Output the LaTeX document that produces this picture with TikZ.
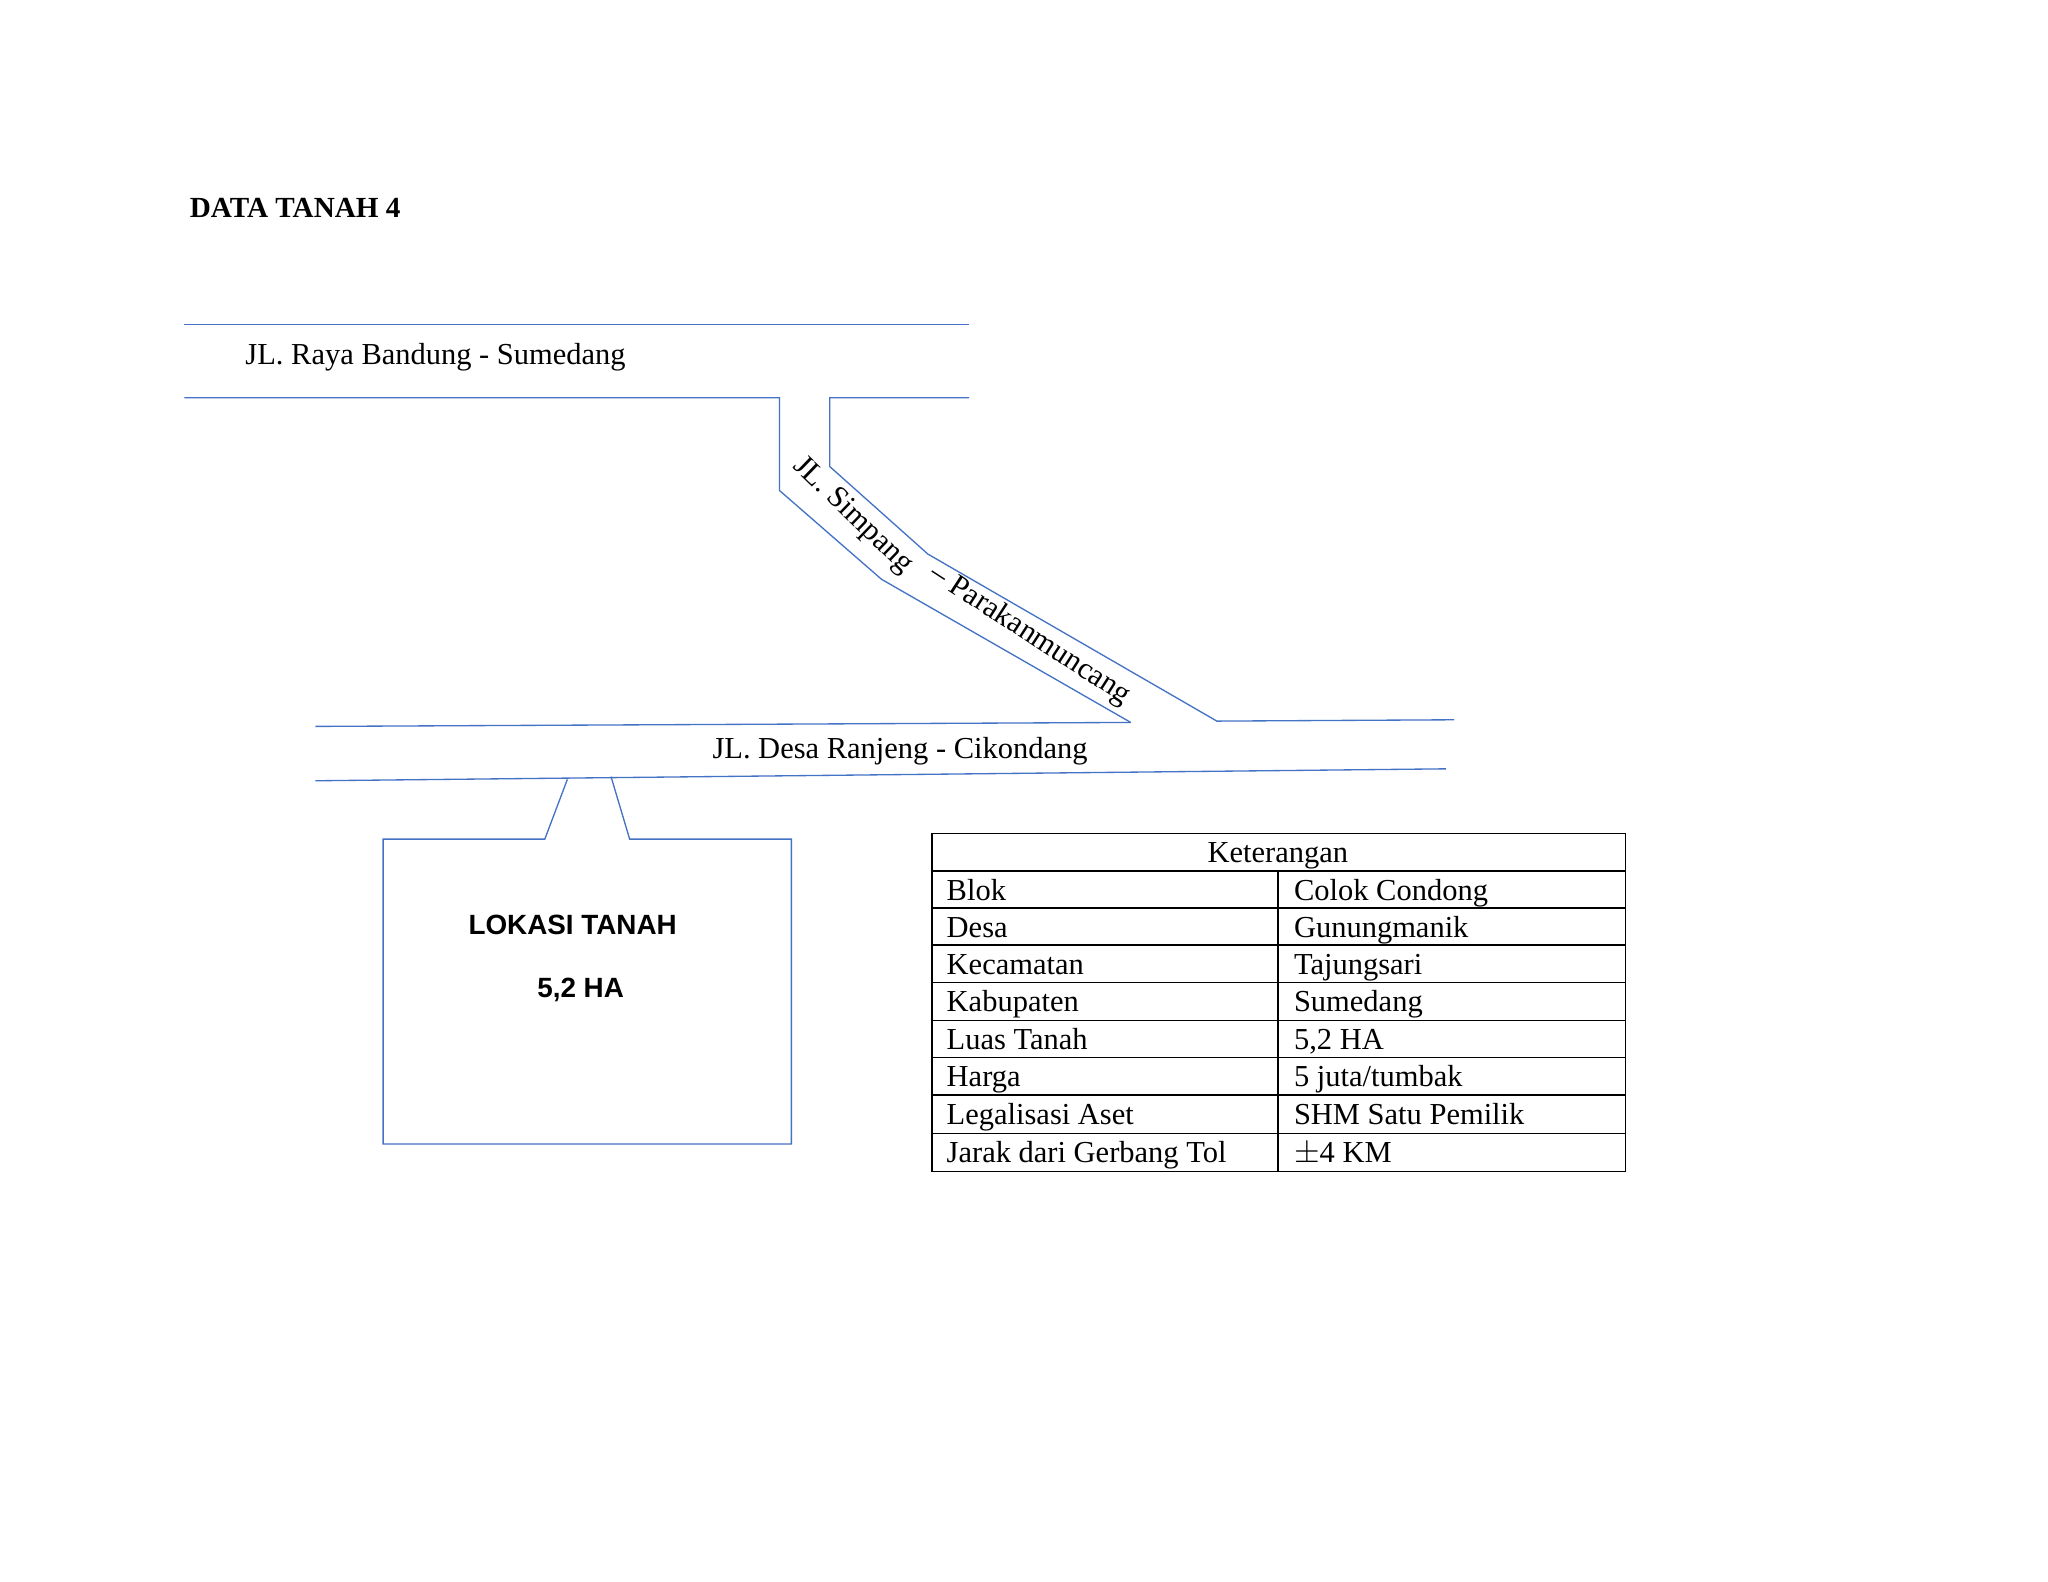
\documentclass[tikz,border=0pt]{standalone}
\usepackage{fontspec}
\setmainfont{Liberation Serif}
\newfontfamily\lsans{Liberation Sans}
\begin{document}
\begin{tikzpicture}[x=1pt,y=-1pt,
  road/.style={line width=1pt, draw={rgb,255:red,68;green,114;blue,196}},
  tbl/.style={draw=black, line width=1pt},
  txt/.style={font=\fontsize{23}{26}\selectfont, inner sep=0pt},
  cell/.style={font=\fontsize{23}{26}\selectfont, inner sep=0pt, anchor=base west}]
\useasboundingbox[fill=white] (0,0) rectangle (1545,1193);
\node[font=\fontsize{22}{25}\selectfont\bfseries, anchor=base west, inner sep=0pt] (title) at (143,164) {DATA TANAH 4};
% top road
\draw[road] (139,245) -- (731,245);
\draw[road] (139,300) -- (588,300) -- (588,370) -- (665,437) -- (853,545);
\draw[road] (731,300) -- (626,300) -- (626,352) -- (700,418) -- (918,544) -- (1097,543);
\node[txt, anchor=base west] (raya) at (185,275) {JL. Raya Bandung - Sumedang};
% diagonal labels
\node[txt, rotate=-44] (simp) at (643,389) {JL. Simpang};
\node[txt, rotate=-33] (para) at (777,479) {-- Parakanmuncang};
% lower road
\draw[road] (238,548) -- (853,545);
\draw[road] (238,589) -- (1091,580);
\node[txt, anchor=base] (desa) at (679,572) {JL. Desa Ranjeng - Cikondang};
% land plot
\draw[road] (428,588) -- (411,633) -- (289,633) -- (289,863) -- (597,863) -- (597,633) -- (475,633) -- (461,586);
\node[font=\lsans\fontsize{21}{24}\selectfont\bfseries, inner sep=0pt] (lok) at (432,698) {LOKASI TANAH};
\node[font=\lsans\fontsize{21}{24}\selectfont\bfseries, inner sep=0pt] (ha) at (438,747) {5,2 HA};
% table
\draw[tbl] (703,629) rectangle (1226,884);
\foreach \y in {657,685,713,741,770,798,826,855} \draw[tbl] (703,\y) -- (1226,\y);
\draw[tbl] (964,657) -- (964,884);
\node[txt, anchor=base] (ket) at (964,651) {Keterangan};
\foreach \y/\a/\b in {679/Blok/Colok Condong, 707/Desa/Gunungmanik, 735/Kecamatan/Tajungsari, 763/Kabupaten/Sumedang, 792/Luas Tanah/{5,2 HA}, 820/Harga/{5 juta/tumbak}, 848/Legalisasi Aset/SHM Satu Pemilik, 877/Jarak dari Gerbang Tol/{$\pm$4 KM}}{
  \node[cell] at (714,\y) {\a};
  \node[cell] at (976,\y) {\b};
}
\end{tikzpicture}
\end{document}
